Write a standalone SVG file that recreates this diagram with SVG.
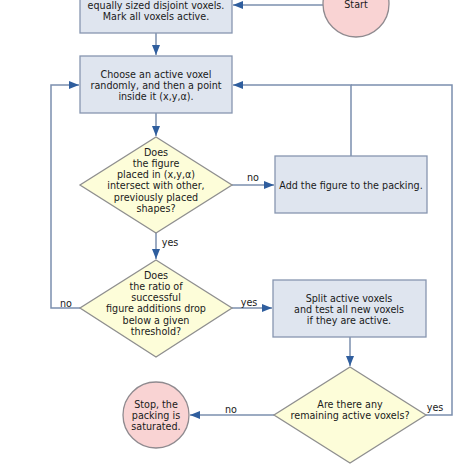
<svg xmlns="http://www.w3.org/2000/svg" width="474" height="474" viewBox="0 0 474 474">
<style>
.box{fill:#dfe5ef;stroke:#8796b0;stroke-width:1.3}
.dia{fill:#fdfdd9;stroke:#8f8f8f;stroke-width:1.3}
.circ{fill:#f9d3d3;stroke:#8f8a8f;stroke-width:1.3}
.t{font-family:"DejaVu Sans",sans-serif;font-size:9.6px;fill:#1a1a1a;text-anchor:middle;dominant-baseline:central}
.lbl{font-family:"DejaVu Sans",sans-serif;font-size:9.6px;fill:#1a1a1a;text-anchor:middle;dominant-baseline:central}
.c{fill:none;stroke:#7b8fae;stroke-width:1.5}
</style>
<defs>
<marker id="ah" viewBox="0 0 10 8" refX="10" refY="4" markerWidth="10" markerHeight="8" markerUnits="userSpaceOnUse" orient="auto">
<path d="M0,0 L10,4 L0,8 Z" fill="#2f5e9e"/>
</marker>
</defs>
<rect width="474" height="474" fill="#ffffff"/>
<g id="connectors">
<path class="c" d="M323,5 H233" marker-end="url(#ah)"/>
<path class="c" d="M156,33 V55" marker-end="url(#ah)"/>
<path class="c" d="M156,113 V136" marker-end="url(#ah)"/>
<path class="c" d="M232,185 H274" marker-end="url(#ah)"/>
<text class="lbl" x="253" y="177">no</text>
<path class="c" d="M351,156 V85 H233" marker-end="url(#ah)"/>
<path class="c" d="M426,415 H452 V85 H351"/>
<text class="lbl" x="435" y="407">yes</text>
<path class="c" d="M80,308 H51 V85 H79" marker-end="url(#ah)"/>
<text class="lbl" x="66" y="303">no</text>
<path class="c" d="M156,233 V259" marker-end="url(#ah)"/>
<text class="lbl" x="170" y="242">yes</text>
<path class="c" d="M232,308 H272" marker-end="url(#ah)"/>
<text class="lbl" x="249" y="302">yes</text>
<path class="c" d="M350,337 V366" marker-end="url(#ah)"/>
<path class="c" d="M274,415 H190" marker-end="url(#ah)"/>
<text class="lbl" x="231" y="409">no</text>
</g>
<g id="init">
<rect class="box" x="80" y="-20" width="152" height="53"/>
<text class="t" x="156" y="5">equally sized disjoint voxels.</text>
<text class="t" x="156" y="16">Mark all voxels active.</text>
</g>
<g id="start">
<circle class="circ" cx="356" cy="4" r="33"/>
<text class="t" x="356" y="4">Start</text>
</g>
<g id="choose">
<rect class="box" x="80" y="56" width="152" height="57"/>
<text class="t" x="156" y="74">Choose an active voxel</text>
<text class="t" x="156" y="85">randomly, and then a point</text>
<text class="t" x="156" y="96">inside it (x,y,α).</text>
</g>
<g id="intersect">
<polygon class="dia" points="156,137 232,185 156,233 80,185"/>
<text class="t" x="156" y="152">Does</text>
<text class="t" x="156" y="163">the figure</text>
<text class="t" x="156" y="174">placed in (x,y,α)</text>
<text class="t" x="156" y="185">intersect with other,</text>
<text class="t" x="156" y="197">previously placed</text>
<text class="t" x="156" y="208">shapes?</text>
</g>
<g id="add">
<rect class="box" x="275" y="156" width="152" height="57"/>
<text class="t" x="351" y="185">Add the figure to the packing.</text>
</g>
<g id="ratio">
<polygon class="dia" points="156,260 232,308 156,357 80,308"/>
<text class="t" x="156" y="275">Does</text>
<text class="t" x="156" y="286">the ratio of</text>
<text class="t" x="156" y="297">successful</text>
<text class="t" x="156" y="308">figure additions drop</text>
<text class="t" x="156" y="320">below a given</text>
<text class="t" x="156" y="331">threshold?</text>
</g>
<g id="split">
<rect class="box" x="273" y="280" width="153" height="57"/>
<text class="t" x="349" y="298">Split active voxels</text>
<text class="t" x="349" y="309">and test all new voxels</text>
<text class="t" x="349" y="320">if they are active.</text>
</g>
<g id="remaining">
<polygon class="dia" points="350,367 426,415 350,463 274,415"/>
<text class="t" x="350" y="404">Are there any</text>
<text class="t" x="350" y="415">remaining active voxels?</text>
</g>
<g id="stop">
<circle class="circ" cx="156" cy="415" r="33"/>
<text class="t" x="156" y="404">Stop, the</text>
<text class="t" x="156" y="415">packing is</text>
<text class="t" x="156" y="426">saturated.</text>
</g>
</svg>
